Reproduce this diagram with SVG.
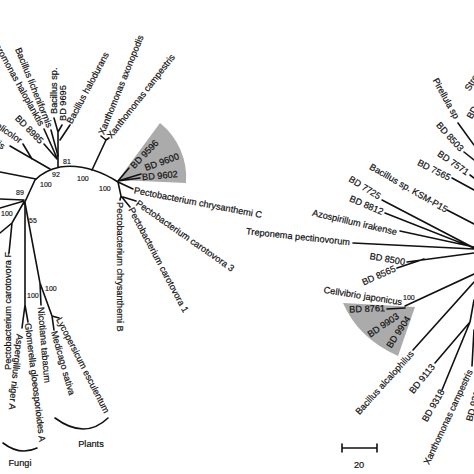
<svg xmlns="http://www.w3.org/2000/svg" width="474" height="474" viewBox="0 0 474 474">
<style>
.t{font-family:"Liberation Sans",Arial,sans-serif;font-size:9.2px;fill:#111;stroke:#111;stroke-width:0.2}
.s{font-family:"Liberation Sans",Arial,sans-serif;font-size:7px;fill:#111;stroke:#111;stroke-width:0.15}
.e{text-anchor:end}
.l{stroke:#111;stroke-width:1.6;fill:none;stroke-linecap:round}
.w{fill:#ababab;stroke:none}
</style>
<rect width="474" height="474" fill="#fff"/>
<g id="wedges">
<path class="w" d="M118,180 L160,123 A70,70 0 0 1 186,183 Z"/>
<path class="w" d="M415,307 L343,303 Q358,338 398,356 Z"/>
</g>
<g id="connectors">
<path class="l" d="M24,204 L35,180 Q45,170 60,167 Q88,163 118,182"/>
<path class="l" d="M92,170 L106,140 M106,140 L101,136 M106,140 L109,138"/>
<path class="l" d="M58,167 L58,132 M58,132 L54,118 M58,132 L62,125 M60,140 L70,125"/>
<path class="l" d="M58,156 L51,130 M57,158 L44,129 M57,159 L44,144"/>
<path class="l" d="M50,169 L10,146 M32,159 L23,144"/>
<path class="l" d="M0,172 L36,179"/>
<path class="l" d="M24,200 L0,199 M24,201 L0,208"/>
<path class="l" d="M24,202 L12,223 L0,233 M12,223 L9,253"/>
<path class="l" d="M25,203 L25,305 L22,328 M25,305 L28,322"/>
<path class="l" d="M25,203 L40,283 L41,305 M40,283 L52,316 L54,330 M52,316 L59,318"/>
<path class="l" d="M118,182 L133,189 M118,182 L121,196 L120,200 M121,196 L130,207 M123,197 L136,201"/>
<path class="l" d="M118,181 L129,168 M118,181 L141,174 M118,181 L140,178"/>
<path class="l" d="M382,200 L474,248 M385,213 L474,248 M400,231 L474,247 M353,243 L474,249 M407,262 L474,253 M397,268 L424,259"/>
<path class="l" d="M447,210 L474,224 M452,178 L474,190 M470,175 L474,178 M464,152 L474,160 M458,123 L474,145"/>
<path class="l" d="M405,306 L474,274 M387,309 L405,308 M413,350 L474,282"/>
<path class="l" d="M435,363 L470,322 M442,390 L470,322 M470,322 L474,300 M472,366 L474,330"/>
<path class="l" d="M342,448 L377,448 M342,444 L342,452 M377,444 L377,452"/>
</g>
<g id="left-labels">
<text class="t e" dy=".35em" transform="translate(42,125) rotate(61)">Pseudoalteromonas haloplanktis</text>
<text class="t e" dy=".35em" transform="translate(50,127) rotate(68)">Bacillus licheniformis</text>
<text class="t e" dy=".35em" transform="translate(42,142) rotate(45)">BD 8985</text>
<text class="t e" dy=".35em" transform="translate(21,141) rotate(35)">Streptomyces coelicolor</text>
<text class="t e" dy=".35em" transform="translate(4,147) rotate(35)">Bacillus subtilis</text>
<text class="t" dy=".35em" transform="translate(54,114) rotate(-90)">Bacillus sp.</text>
<text class="t" dy=".35em" transform="translate(63,121) rotate(-90)">BD 9695</text>
<text class="t" dy=".35em" transform="translate(69,123) rotate(-62)">Bacillus halodurans</text>
<text class="t" dy=".35em" transform="translate(101,134) rotate(-68)">Xanthomonas axonopodis</text>
<text class="t" dy=".35em" transform="translate(109,137) rotate(-52)">Xanthomonas campestris</text>
<text class="t" dy=".35em" transform="translate(132,167) rotate(-46)">BD 9596</text>
<text class="t" dy=".35em" transform="translate(145,168) rotate(-20)">BD 9600</text>
<text class="t" dy=".35em" transform="translate(142,177) rotate(-5)">BD 9602</text>
<text class="t" dy=".35em" transform="translate(134,190) rotate(11)">Pectobacterium chrysanthemi C</text>
<text class="t" dy=".35em" transform="translate(137,202) rotate(35)">Pectobacterium carotovora 3</text>
<text class="t" dy=".35em" transform="translate(131,208) rotate(62)">Pectobacterium carotovora 1</text>
<text class="t" dy=".35em" transform="translate(120,202) rotate(90)">Pectobacterium chrysanthemi B</text>
<text class="t e" dy=".35em" transform="translate(8,252) rotate(-90)">Pectobacterium carotovora F</text>
<text class="t" dy=".35em" transform="translate(20,334) rotate(96)">Aspergillus niger A</text>
<text class="t" dy=".35em" transform="translate(28,323) rotate(83)">Glomerella gloeosporioides A</text>
<text class="t" dy=".35em" transform="translate(41,307) rotate(85)">Nicotiana tabacum</text>
<text class="t" dy=".35em" transform="translate(54,331) rotate(74)">Medicago sativa</text>
<text class="t" dy=".35em" transform="translate(59,318) rotate(63)">Lycopersicum esculentum</text>
</g>
<g id="support">
<text class="s" x="63" y="164">81</text>
<text class="s" x="52" y="177">92</text>
<text class="s" x="40" y="187">100</text>
<text class="s" x="77" y="181">100</text>
<text class="s" x="99" y="191">100</text>
<text class="s" x="16" y="195">89</text>
<text class="s" x="1" y="216">100</text>
<text class="s" x="29" y="223">55</text>
<text class="s" x="27" y="298">100</text>
<text class="s" x="45" y="291">100</text>
<text class="s" x="403" y="300">100</text>
</g>
<g id="right-labels">
<text class="t" dy=".35em" transform="translate(467,90) rotate(-60)">Streptomyces sp.</text>
<text class="t" dy=".35em" transform="translate(469,118) rotate(-60)">BD 8501</text>
<text class="t e" dy=".35em" transform="translate(457,118) rotate(61)">Pirellula sp</text>
<text class="t e" dy=".35em" transform="translate(462,150) rotate(48)">BD 8503</text>
<text class="t e" dy=".35em" transform="translate(468,173) rotate(35)">BD 7571</text>
<text class="t e" dy=".35em" transform="translate(450,178) rotate(27)">BD 7565</text>
<text class="t e" dy=".35em" transform="translate(447,210) rotate(30)">Bacillus sp. KSM-P15</text>
<text class="t e" dy=".35em" transform="translate(380,197) rotate(32)">BD 7725</text>
<text class="t e" dy=".35em" transform="translate(383,212) rotate(23)">BD 8812</text>
<text class="t e" dy=".35em" transform="translate(397,232) rotate(13)">Azospirillum irakense</text>
<text class="t e" dy=".35em" transform="translate(350,242) rotate(6)">Treponema pectinovorum</text>
<text class="t e" dy=".35em" transform="translate(405,262) rotate(10)">BD 8500</text>
<text class="t e" dy=".35em" transform="translate(395,268) rotate(-24)">BD 8565</text>
<text class="t e" dy=".35em" transform="translate(402,302) rotate(9)">Cellvibrio japonicus</text>
<text class="t e" dy=".35em" transform="translate(385,308) rotate(-2)">BD 8761</text>
<text class="t e" dy=".35em" transform="translate(398,315) rotate(-34)">BD 9903</text>
<text class="t e" dy=".35em" transform="translate(408,317) rotate(-57)">BD 9904</text>
<text class="t e" dy=".35em" transform="translate(412,352) rotate(-48)">Bacillus alcalophilus</text>
<text class="t e" dy=".35em" transform="translate(433,365) rotate(-51)">BD 9113</text>
<text class="t e" dy=".35em" transform="translate(442,390) rotate(-60)">BD 9318</text>
<text class="t e" dy=".35em" transform="translate(470,370) rotate(-65)">Xanthomonas campestris</text>
<text class="t" dy=".35em" transform="translate(469,421) rotate(-75)">BD 9316</text>
</g>
<g id="groups">
<path class="l" d="M3,443 Q20,456 37,448"/>
<text class="t" x="20" y="466" text-anchor="middle">Fungi</text>
<path class="l" d="M55,418 Q85,440 108,418"/>
<text class="t" x="91" y="447" text-anchor="middle">Plants</text>
<text class="t" x="359" y="468" text-anchor="middle">20</text>
</g>
</svg>
